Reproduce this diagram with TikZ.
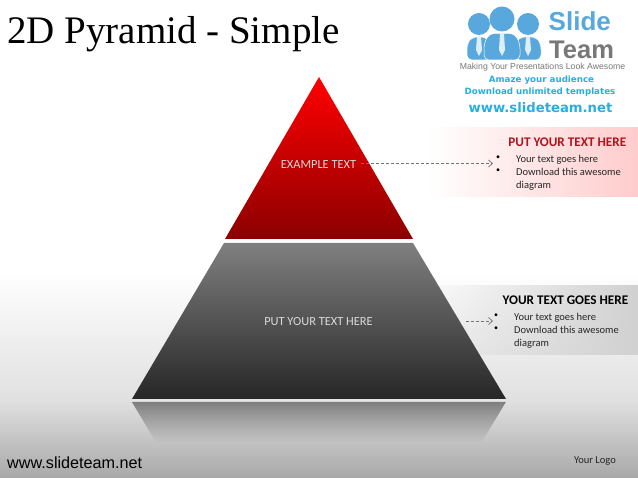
\documentclass[tikz,border=0pt]{standalone}
\usepackage{fontspec}
\setmainfont{Liberation Serif}
\setsansfont{Carlito}
\newfontfamily\arialfont{Liberation Sans}
\newfontfamily\widefont{DejaVu Sans}
\usetikzlibrary{arrows.meta, fadings}
\definecolor{logoblue}{RGB}{88,168,222}
\definecolor{logocyan}{RGB}{40,175,225}
\definecolor{logogray}{RGB}{120,120,120}
\definecolor{headred}{RGB}{176,20,30}
\tikzfading[name = panelfade, left color = transparent!100, right color = transparent!0]
\tikzfading[name = reflectfade, top color = transparent!20, middle color = transparent!72, bottom color = transparent!100]
\tikzset{
    bodytext/.style = {font = \sffamily\fontsize{10.5}{12.8}\selectfont, text = #1, inner sep = 0pt},
    bodytext/.default = black!85,
    pyramidtext/.style = {font = \sffamily\fontsize{12.4}{14}\selectfont, text = white!85!black, inner sep = 0pt},
    headtext/.style = {font = \sffamily\bfseries\fontsize{13.2}{15}\selectfont, text = #1, inner sep = 0pt, anchor = east},
    bullettext/.style = {font = \sffamily\fontsize{8}{12.8}\selectfont, text = black, inner sep = 0pt, anchor = north west, align = left},
    linktip/.style = {densely dashed, black!55, -{Straight Barb[length = 4pt, width = 7pt]}, line width = 0.7pt}
}
\begin{document}
\begin{tikzpicture}[x = 1pt, y = -1pt]
    \useasboundingbox (0, 0) rectangle (638, 478);
    % background
    \fill [white] (0, 0) rectangle (638, 270);
    \shade [top color = white, bottom color = black!12] (0, 270) rectangle (638, 400);
    \shade [top color = black!12, bottom color = black!34] (0, 400) rectangle (638, 478);

    % side panels
    \fill [red!20, path fading = panelfade] (430, 127) rectangle (638, 197);
    \fill [black!18, path fading = panelfade] (425, 285) rectangle (638, 355);

    % pyramid
    \shade [top color = red, bottom color = red!55!black] (319, 77) -- (413, 239) -- (225, 239) -- cycle;
    \shade [top color = black!50, bottom color = black!85] (224, 243) -- (413, 243) -- (506, 399) -- (132, 399) -- cycle;
    \fill [white!90!black] (132, 399) rectangle (506, 402);
    \fill [black!60, path fading = reflectfade] (132, 402) -- (506, 402) -- (482, 442) -- (156, 442) -- cycle;

    % labels in the pyramid
    \node [pyramidtext] (example) at (318.5, 164.5) {EXAMPLE TEXT};
    \node [pyramidtext] (puttext) at (318.5, 322) {PUT YOUR TEXT HERE};
    \coordinate (redtip) at (493, 163.5);
    \coordinate (graytip) at (493, 321);
    \coordinate (graystart) at (466, 321);
    \draw [linktip] (example.east) ++(5, -1) -- (redtip);
    \draw [linktip] (graystart) -- (graytip);

    % red panel text
    \node [headtext = headred] (redhead) at (626.5, 142.5) {PUT YOUR TEXT HERE};
    \node [bodytext, anchor = north west, align = left] (redbody) at (516, 155) {Your text goes here\\Download this awesome\\diagram};
    \node [bullettext] (redbullet) at (496, 156) {•\\•};

    % gray panel text
    \node [headtext = black] (grayhead) at (628.5, 300) {YOUR TEXT GOES HERE};
    \node [bodytext, anchor = north west, align = left] (graybody) at (514, 313) {Your text goes here\\Download this awesome\\diagram};
    \node [bullettext] (graybullet) at (494, 314) {•\\•};

    % title and footer
    \node [anchor = west, inner sep = 0pt, font = \fontsize{39}{44}\selectfont] (title) at (7, 34) {2D Pyramid - Simple};
    \node [anchor = west, inner sep = 0pt, font = \arialfont\fontsize{16.2}{20}\selectfont] (site) at (7, 463) {www.slideteam.net};
    \node [bodytext, anchor = east] (yourlogo) at (616, 461) {Your Logo};

    % logo
    \foreach \px/\py/\hr/\bw in {479/24/11/12, 528/24/11/13, 502/19/12.5/18} {
        \fill [logoblue] (\px, \py) circle (\hr);
        \fill [logoblue, draw = white, line width = 0.5pt, rounded corners = 5pt] (\px - \bw, 60) -- (\px - \bw, 44) -- (\px - \bw + 5, \py + \hr + 2) -- (\px + \bw - 5, \py + \hr + 2) -- (\px + \bw, 44) -- (\px + \bw, 60) -- cycle;
        \fill [white!80!logoblue] (\px - 2, \py + \hr + 2) -- (\px + 2, \py + \hr + 2) -- (\px + 3, 50) -- (\px, 56) -- (\px - 3, 50) -- cycle;
    }
    \node [anchor = west, inner sep = 0pt, text = logoblue, font = \arialfont\bfseries\fontsize{26}{28}\selectfont] (slide) at (548.5, 21) {Slide};
    \node [anchor = west, inner sep = 0pt, text = logogray, font = \arialfont\bfseries\fontsize{25.5}{28}\selectfont] (team) at (549, 49.5) {Team};
    \node [inner sep = 0pt, text = logogray, font = \arialfont\fontsize{8.7}{10}\selectfont] (tagline) at (542.5, 67.5) {Making Your Presentations Look Awesome};
    \node [inner sep = 0pt, text = logocyan, font = \widefont\bfseries\fontsize{8.7}{10}\selectfont] (amaze) at (541.5, 80.5) {Amaze your audience};
    \node [inner sep = 0pt, text = logocyan, font = \widefont\bfseries\fontsize{8.7}{10}\selectfont] (unlimited) at (540, 92) {Download unlimited templates};
    \node [inner sep = 0pt, text = logocyan, font = \widefont\bfseries\fontsize{13.2}{16}\selectfont] (url) at (540.5, 107.5) {www.slideteam.net};
\end{tikzpicture}
\end{document}
